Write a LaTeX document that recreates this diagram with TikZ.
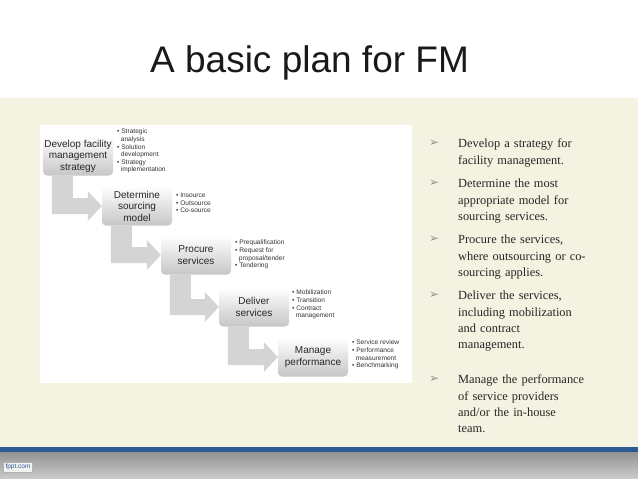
\documentclass[tikz,border=0pt]{standalone}
\usepackage{fontspec}
\setmainfont{Liberation Serif}
\newfontfamily\arial{Liberation Sans}
\newfontfamily\dejavu{DejaVu Sans}
\usetikzlibrary{calc}
\definecolor{cream}{HTML}{F4F2E1}
\definecolor{footblue}{HTML}{2E5A93}
\definecolor{flowgray}{HTML}{D4D4D4}
\tikzstyle{stepbox}=[rounded corners=4pt,top color=white,bottom color=gray!45,minimum width=70pt,minimum height=39pt,inner sep=1pt,align=center,font=\arial\fontsize{10}{11.5}\selectfont,text=black!85]
\tikzstyle{subitems}=[anchor=north west,align=left,inner sep=0pt,font=\arial\fontsize{6.6}{7.6}\selectfont,text=black!80]
\tikzstyle{point}=[anchor=north west,align=left,inner sep=0pt,text width=150pt,font=\fontsize{12.4}{16.2}\selectfont,text=black!85]
\tikzstyle{pointmark}=[anchor=north west,inner sep=0pt,font=\dejavu\fontsize{12}{12}\selectfont,text=gray!85]
\newcommand{\flowarrow}[2]{%
  \fill[flowgray] let \p1=(#1.south west), \p2=(#2.west) in
    (\x1+9pt,\y1) -- (\x1+30pt,\y1) -- (\x1+30pt,\y2+8pt) -- (\x2-14pt,\y2+8pt)
    -- (\x2-14pt,\y2+15pt) -- (\x2,\y2) -- (\x2-14pt,\y2-15pt) -- (\x2-14pt,\y2-8pt)
    -- (\x1+9pt,\y2-8pt) -- cycle;}
\begin{document}
\begin{tikzpicture}[x=1pt,y=-1pt]
    \useasboundingbox (0,0) rectangle (638,479);
    % background
    \fill[white] (0,0) rectangle (638,98);
    \fill[cream] (0,98) rectangle (638,447);
    \fill[footblue] (0,447) rectangle (638,452);
    \shade[top color=gray!85,bottom color=gray!40] (0,452) rectangle (638,479);
    \node (logo)[draw=gray!60,fill=gray!10,inner sep=2pt,font=\arial\fontsize{6.5}{7}\selectfont,text=footblue] at (18,467) {fppt.com};
    \node (title)[anchor=west,inner sep=0pt,font=\arial\fontsize{37}{40}\selectfont,text=black!90] at (150,63) {A basic plan for FM};
    % flow chart
    \fill[white] (40,125) rectangle (412,383);
    \node (s1)[stepbox] at (78,156) {Develop facility\\management\\strategy};
    \node (s2)[stepbox] at (137,206) {Determine\\sourcing\\model};
    \node (s3)[stepbox] at (196,255) {Procure\\services};
    \node (s4)[stepbox] at (254,307) {Deliver\\services};
    \node (s5)[stepbox] at (313,357) {Manage\\performance};
    \flowarrow{s1}{s2}
    \flowarrow{s2}{s3}
    \flowarrow{s3}{s4}
    \flowarrow{s4}{s5}
    \node (l1)[subitems] at (117,129) {• Strategic\\\ \ analysis\\• Solution\\\ \ development\\• Strategy\\\ \ implementation};
    \node (l2)[subitems] at (176,193) {• Insource\\• Outsource\\• Co-source};
    \node (l3)[subitems] at (235,240) {• Prequalification\\• Request for\\\ \ proposal/tender\\• Tendering};
    \node (l4)[subitems] at (292,290) {• Mobilization\\• Transition\\• Contract\\\ \ management};
    \node (l5)[subitems] at (352,340) {• Service review\\• Performance\\\ \ measurement\\• Benchmarking};
    % bullet points
    \foreach \y/\txt [count=\i] in {139/{Develop a strategy for\\facility management.},
        179/{Determine the most\\appropriate model for\\sourcing services.},
        235/{Procure the services,\\where outsourcing or co-\\sourcing applies.},
        291/{Deliver the services,\\including mobilization\\and contract\\management.},
        375/{Manage the performance\\of service providers\\and/or the in-house\\team.}}{
        \node (m\i)[pointmark] at (429,\y+1) {➢};
        \node (p\i)[point] at (458,\y) {\txt};
    }
\end{tikzpicture}
\end{document}
